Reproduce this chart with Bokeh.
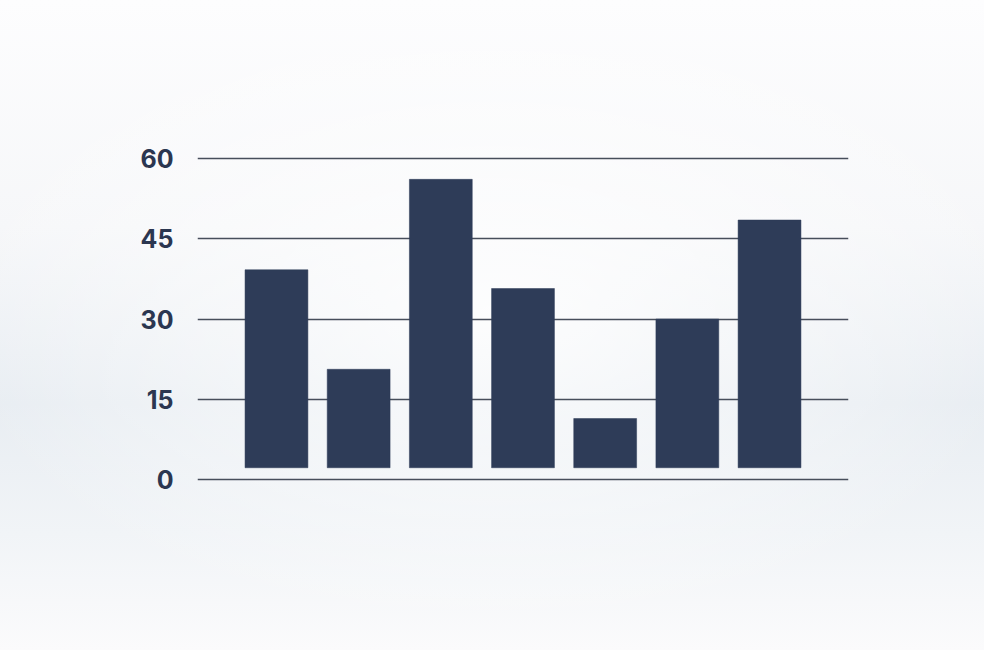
from bokeh.plotting import figure
from bokeh.models import Range1d, FixedTicker
from bokeh.embed import file_html
from bokeh.resources import INLINE

# Data
positions = [1, 2, 3, 4, 5, 6, 7]
values = [39.2, 20.6, 56.1, 35.7, 11.4, 30.0, 48.5]
bar_base = 2.2
y_ticks = [0, 15, 30, 45, 60]

BAR = "#2e3c58"
GRID = "#474e5b"
TEXT = "#2b3650"

W, H = 984, 650
frame_left, frame_right = 197, 848
frame_top, frame_bottom = 152, 485

p = figure(
    width=W, height=H,
    output_backend="svg", toolbar_location=None,
    x_range=Range1d(0.039, 7.961),
    y_range=Range1d(-1.12, 61.12),
    min_border_left=frame_left, min_border_right=W - frame_right,
    min_border_top=frame_top, min_border_bottom=H - frame_bottom,
)
p.styles = {
    "background": (
        "radial-gradient(ellipse 55% 50% at 50% 48%, rgba(255,255,255,0.85) 0%, rgba(255,255,255,0) 100%), "
        "linear-gradient(to bottom, #fdfdfe 0%, #f6f7f9 35%, #e8edf2 62%, #f1f4f7 82%, #fbfbfc 100%)"
    )
}
p.border_fill_color = None
p.background_fill_color = None
p.outline_line_color = None

p.vbar(x=positions, top=values, bottom=bar_base, width=0.765,
       fill_color=BAR, line_color=BAR, line_width=0.5)

p.xaxis.visible = False
p.xgrid.grid_line_color = None

p.yaxis.ticker = FixedTicker(ticks=y_ticks)
p.yaxis.axis_line_color = None
p.yaxis.major_tick_line_color = None
p.yaxis.minor_tick_line_color = None
p.yaxis.major_tick_out = 0
p.yaxis.major_tick_in = 0
p.yaxis.major_label_standoff = 24
p.yaxis.major_label_text_font = "Inter"
p.yaxis.major_label_text_font_style = "bold"
p.yaxis.major_label_text_font_size = "25px"
p.yaxis.major_label_text_color = TEXT

p.ygrid.ticker = FixedTicker(ticks=y_ticks)
p.ygrid.grid_line_color = GRID
p.ygrid.grid_line_width = 1.5

open("out.html", "w").write(file_html(p, INLINE))
